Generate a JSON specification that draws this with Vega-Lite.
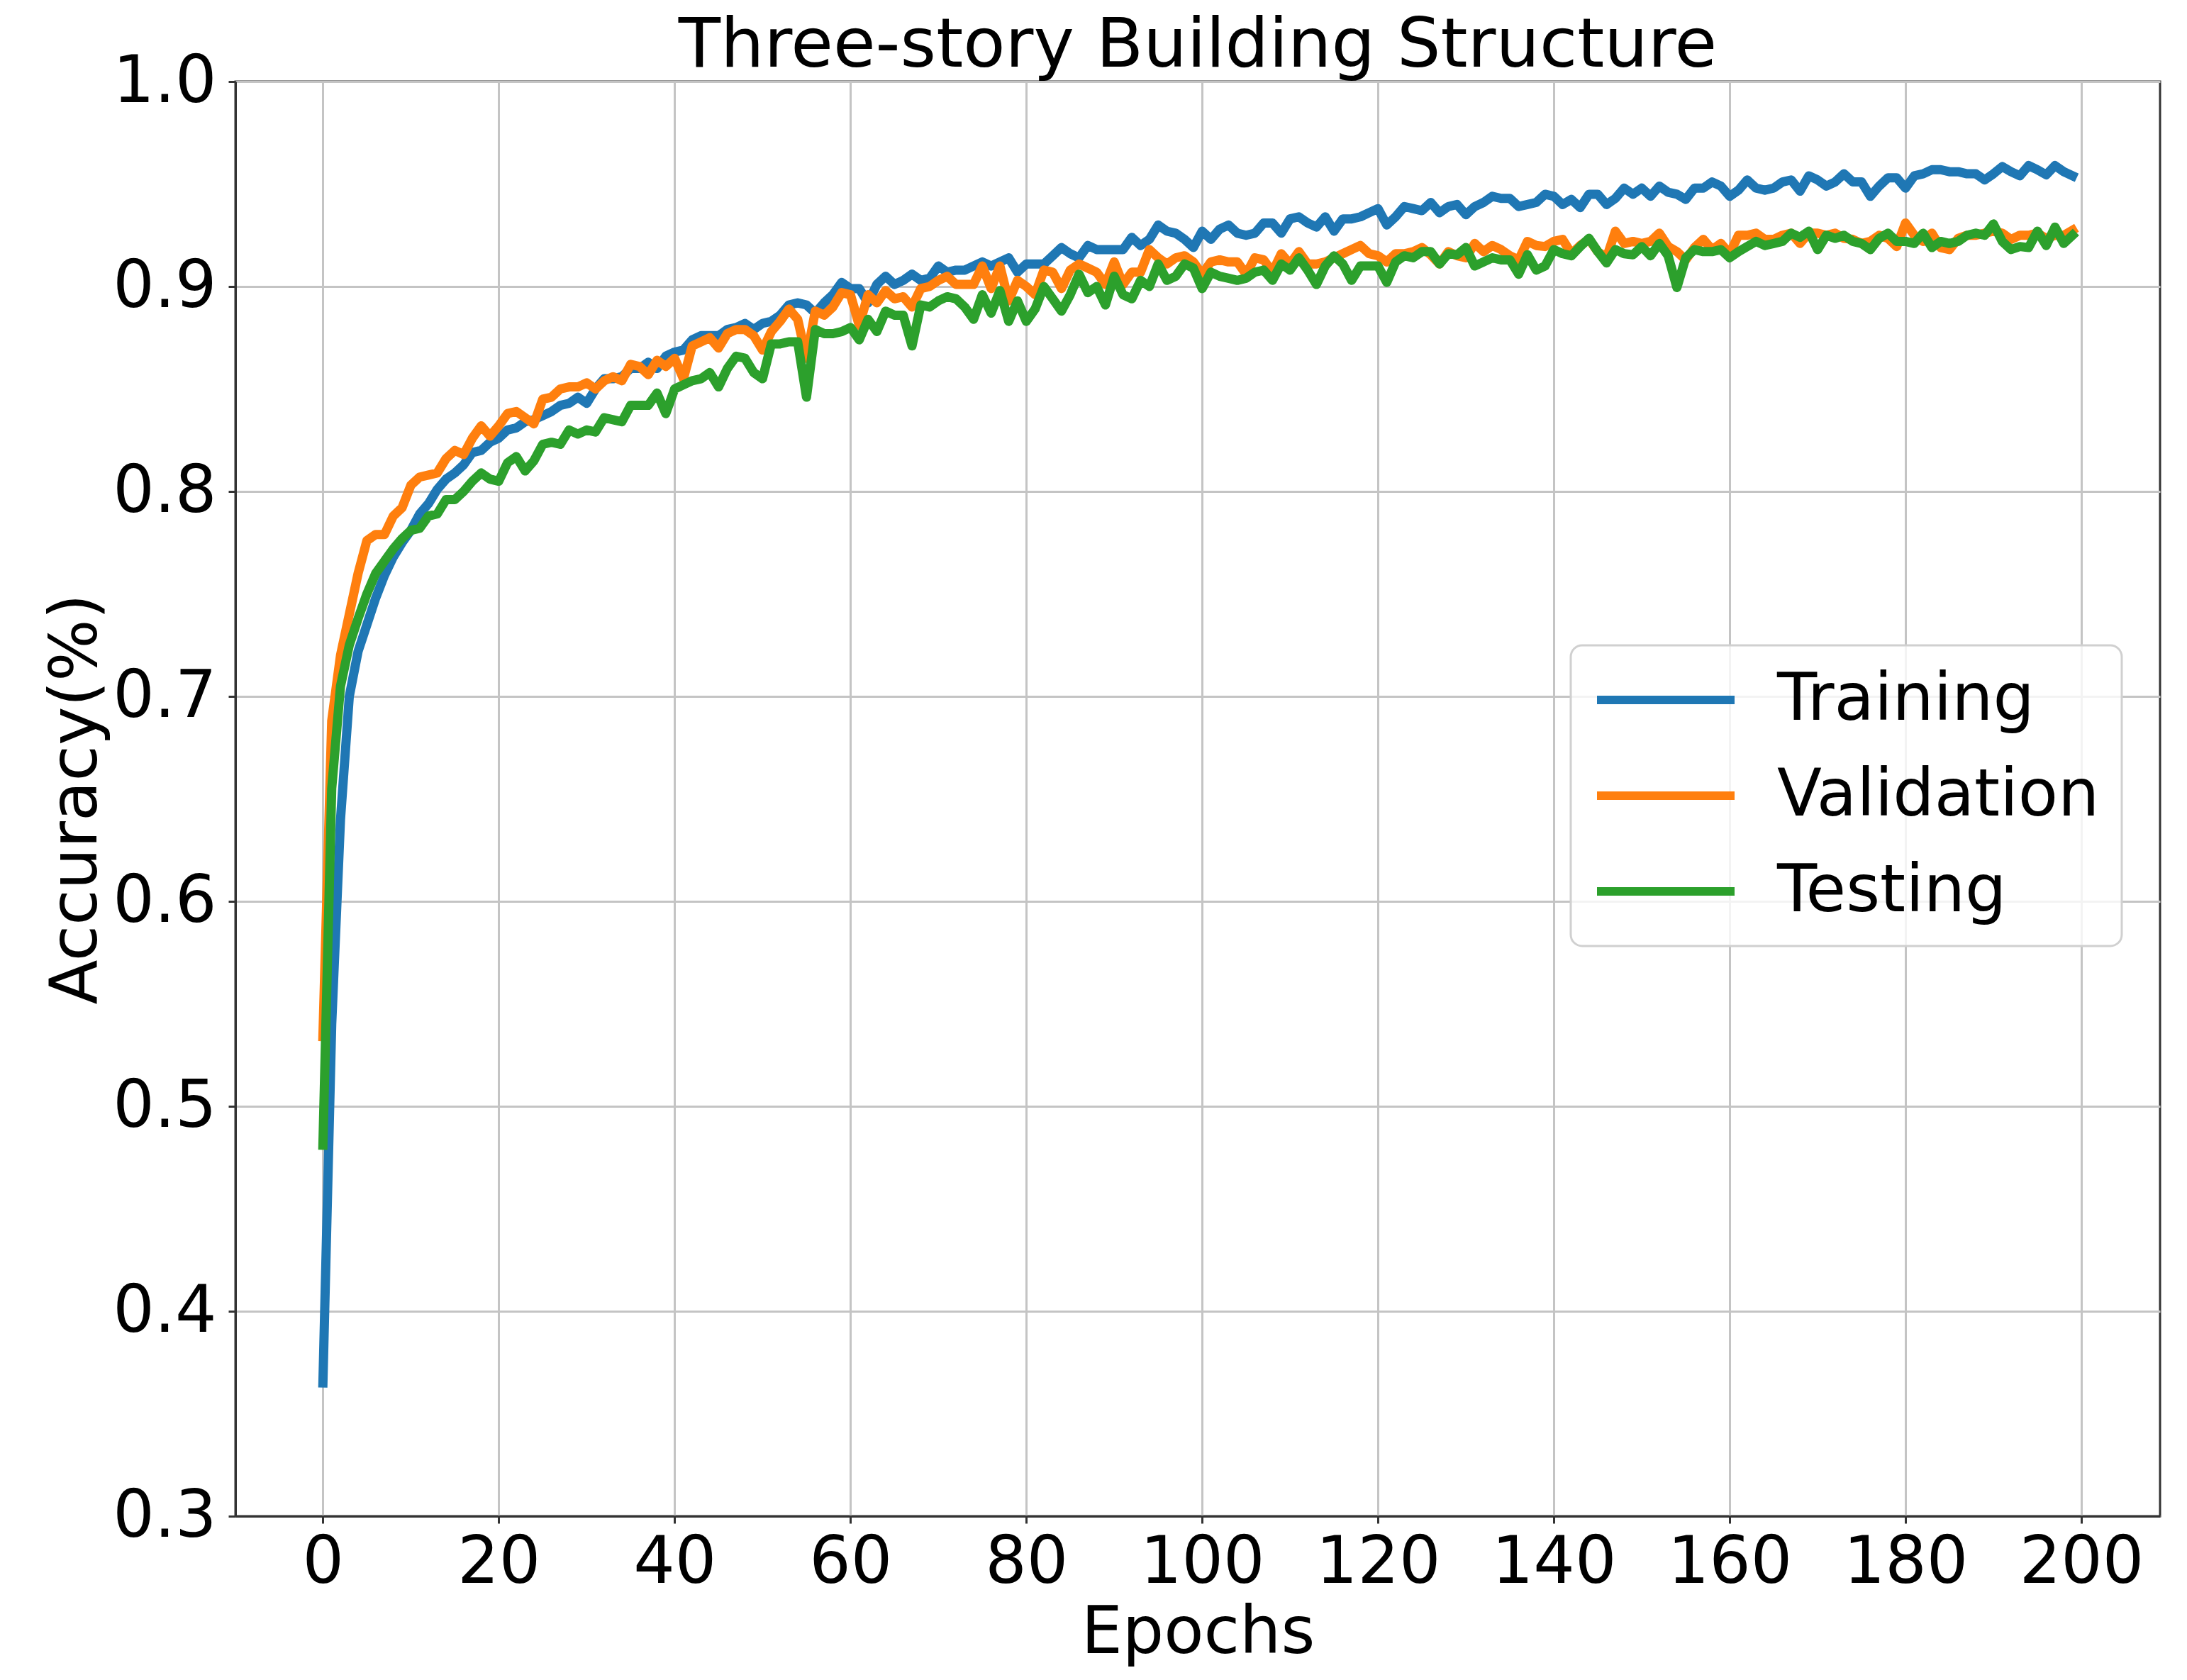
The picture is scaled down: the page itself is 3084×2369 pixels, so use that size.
{
  "$schema": "https://vega.github.io/schema/vega-lite/v6.json",
  "width": 2714,
  "height": 2023,
  "autosize": {"type": "none"},
  "padding": {"left": 332, "top": 115, "right": 38, "bottom": 231},
  "background": "white",
  "view": {"stroke": "#333333", "strokeWidth": 3},
  "title": {
    "text": "Three-story Building Structure",
    "font": "DejaVu Sans",
    "fontSize": 97,
    "fontWeight": "normal",
    "color": "black",
    "anchor": "middle",
    "baseline": "alphabetic",
    "offset": -122
  },
  "config": {
    "axis": {
      "labelFont": "DejaVu Sans",
      "labelFontSize": 92,
      "labelColor": "black",
      "titleFont": "DejaVu Sans",
      "titleFontSize": 92,
      "titleFontWeight": "normal",
      "titleColor": "black",
      "tickColor": "#333333",
      "tickWidth": 3,
      "tickSize": 10,
      "domainColor": "#333333",
      "domainWidth": 3,
      "gridColor": "#c4c4c4",
      "gridWidth": 3,
      "labelFlush": false,
      "labelOverlap": false
    },
    "legend": {"strokeWidth": 3}
  },
  "data": {
    "values": [
      {"epoch":0,"Training":0.365,"Validation":0.534,"Testing":0.481},
      {"epoch":1,"Training":0.54,"Validation":0.688,"Testing":0.655},
      {"epoch":2,"Training":0.64,"Validation":0.720,"Testing":0.705},
      {"epoch":3,"Training":0.70,"Validation":0.740,"Testing":0.725},
      {"epoch":4,"Training":0.722,"Validation":0.760,"Testing":0.738},
      {"epoch":5,"Training":0.735,"Validation":0.776,"Testing":0.750},
      {"epoch":6,"Training":0.748,"Validation":0.779,"Testing":0.760},
      {"epoch":7,"Training":0.759,"Validation":0.779,"Testing":0.766},
      {"epoch":8,"Training":0.768,"Validation":0.788,"Testing":0.772},
      {"epoch":9,"Training":0.775,"Validation":0.792,"Testing":0.777},
      {"epoch":10,"Training":0.781,"Validation":0.803,"Testing":0.781},
      {"epoch":11,"Training":0.789,"Validation":0.807,"Testing":0.782},
      {"epoch":12,"Training":0.794,"Validation":0.808,"Testing":0.788},
      {"epoch":13,"Training":0.801,"Validation":0.809,"Testing":0.789},
      {"epoch":14,"Training":0.806,"Validation":0.816,"Testing":0.796},
      {"epoch":15,"Training":0.809,"Validation":0.820,"Testing":0.796},
      {"epoch":16,"Training":0.813,"Validation":0.818,"Testing":0.800},
      {"epoch":17,"Training":0.819,"Validation":0.826,"Testing":0.805},
      {"epoch":18,"Training":0.820,"Validation":0.832,"Testing":0.809},
      {"epoch":19,"Training":0.824,"Validation":0.827,"Testing":0.806},
      {"epoch":20,"Training":0.826,"Validation":0.832,"Testing":0.805},
      {"epoch":21,"Training":0.830,"Validation":0.838,"Testing":0.814},
      {"epoch":22,"Training":0.831,"Validation":0.839,"Testing":0.817},
      {"epoch":23,"Training":0.834,"Validation":0.836,"Testing":0.810},
      {"epoch":24,"Training":0.835,"Validation":0.833,"Testing":0.815},
      {"epoch":25,"Training":0.837,"Validation":0.845,"Testing":0.823},
      {"epoch":26,"Training":0.839,"Validation":0.846,"Testing":0.824},
      {"epoch":27,"Training":0.842,"Validation":0.850,"Testing":0.823},
      {"epoch":28,"Training":0.843,"Validation":0.851,"Testing":0.830},
      {"epoch":29,"Training":0.846,"Validation":0.851,"Testing":0.828},
      {"epoch":30,"Training":0.843,"Validation":0.853,"Testing":0.830},
      {"epoch":31,"Training":0.850,"Validation":0.850,"Testing":0.829},
      {"epoch":32,"Training":0.855,"Validation":0.854,"Testing":0.836},
      {"epoch":33,"Training":0.855,"Validation":0.856,"Testing":0.835},
      {"epoch":34,"Training":0.856,"Validation":0.854,"Testing":0.834},
      {"epoch":35,"Training":0.860,"Validation":0.862,"Testing":0.842},
      {"epoch":36,"Training":0.860,"Validation":0.861,"Testing":0.842},
      {"epoch":37,"Training":0.863,"Validation":0.857,"Testing":0.842},
      {"epoch":38,"Training":0.860,"Validation":0.864,"Testing":0.848},
      {"epoch":39,"Training":0.866,"Validation":0.861,"Testing":0.838},
      {"epoch":40,"Training":0.868,"Validation":0.865,"Testing":0.850},
      {"epoch":41,"Training":0.869,"Validation":0.855,"Testing":0.852},
      {"epoch":42,"Training":0.874,"Validation":0.871,"Testing":0.854},
      {"epoch":43,"Training":0.876,"Validation":0.873,"Testing":0.855},
      {"epoch":44,"Training":0.876,"Validation":0.875,"Testing":0.858},
      {"epoch":45,"Training":0.876,"Validation":0.870,"Testing":0.851},
      {"epoch":46,"Training":0.879,"Validation":0.877,"Testing":0.860},
      {"epoch":47,"Training":0.880,"Validation":0.879,"Testing":0.866},
      {"epoch":48,"Training":0.882,"Validation":0.879,"Testing":0.865},
      {"epoch":49,"Training":0.879,"Validation":0.876,"Testing":0.858},
      {"epoch":50,"Training":0.882,"Validation":0.869,"Testing":0.855},
      {"epoch":51,"Training":0.883,"Validation":0.878,"Testing":0.872},
      {"epoch":52,"Training":0.886,"Validation":0.883,"Testing":0.872},
      {"epoch":53,"Training":0.891,"Validation":0.889,"Testing":0.873},
      {"epoch":54,"Training":0.892,"Validation":0.884,"Testing":0.873},
      {"epoch":55,"Training":0.891,"Validation":0.865,"Testing":0.846},
      {"epoch":56,"Training":0.887,"Validation":0.888,"Testing":0.879},
      {"epoch":57,"Training":0.892,"Validation":0.886,"Testing":0.877},
      {"epoch":58,"Training":0.896,"Validation":0.890,"Testing":0.877},
      {"epoch":59,"Training":0.902,"Validation":0.897,"Testing":0.878},
      {"epoch":60,"Training":0.899,"Validation":0.896,"Testing":0.880},
      {"epoch":61,"Training":0.899,"Validation":0.881,"Testing":0.874},
      {"epoch":62,"Training":0.892,"Validation":0.896,"Testing":0.884},
      {"epoch":63,"Training":0.901,"Validation":0.892,"Testing":0.878},
      {"epoch":64,"Training":0.905,"Validation":0.898,"Testing":0.888},
      {"epoch":65,"Training":0.901,"Validation":0.894,"Testing":0.886},
      {"epoch":66,"Training":0.903,"Validation":0.895,"Testing":0.886},
      {"epoch":67,"Training":0.906,"Validation":0.890,"Testing":0.871},
      {"epoch":68,"Training":0.903,"Validation":0.899,"Testing":0.891},
      {"epoch":69,"Training":0.904,"Validation":0.900,"Testing":0.890},
      {"epoch":70,"Training":0.910,"Validation":0.903,"Testing":0.893},
      {"epoch":71,"Training":0.907,"Validation":0.905,"Testing":0.895},
      {"epoch":72,"Training":0.908,"Validation":0.901,"Testing":0.894},
      {"epoch":73,"Training":0.908,"Validation":0.901,"Testing":0.890},
      {"epoch":74,"Training":0.910,"Validation":0.901,"Testing":0.884},
      {"epoch":75,"Training":0.912,"Validation":0.910,"Testing":0.896},
      {"epoch":76,"Training":0.910,"Validation":0.899,"Testing":0.887},
      {"epoch":77,"Training":0.912,"Validation":0.910,"Testing":0.898},
      {"epoch":78,"Training":0.914,"Validation":0.893,"Testing":0.883},
      {"epoch":79,"Training":0.907,"Validation":0.903,"Testing":0.893},
      {"epoch":80,"Training":0.911,"Validation":0.900,"Testing":0.883},
      {"epoch":81,"Training":0.911,"Validation":0.896,"Testing":0.889},
      {"epoch":82,"Training":0.911,"Validation":0.908,"Testing":0.900},
      {"epoch":83,"Training":0.915,"Validation":0.907,"Testing":0.894},
      {"epoch":84,"Training":0.919,"Validation":0.899,"Testing":0.888},
      {"epoch":85,"Training":0.916,"Validation":0.908,"Testing":0.896},
      {"epoch":86,"Training":0.914,"Validation":0.911,"Testing":0.906},
      {"epoch":87,"Training":0.920,"Validation":0.909,"Testing":0.897},
      {"epoch":88,"Training":0.918,"Validation":0.907,"Testing":0.900},
      {"epoch":89,"Training":0.918,"Validation":0.901,"Testing":0.891},
      {"epoch":90,"Training":0.918,"Validation":0.912,"Testing":0.905},
      {"epoch":91,"Training":0.918,"Validation":0.901,"Testing":0.896},
      {"epoch":92,"Training":0.924,"Validation":0.907,"Testing":0.894},
      {"epoch":93,"Training":0.920,"Validation":0.907,"Testing":0.903},
      {"epoch":94,"Training":0.923,"Validation":0.918,"Testing":0.900},
      {"epoch":95,"Training":0.930,"Validation":0.914,"Testing":0.911},
      {"epoch":96,"Training":0.927,"Validation":0.911,"Testing":0.903},
      {"epoch":97,"Training":0.926,"Validation":0.914,"Testing":0.905},
      {"epoch":98,"Training":0.923,"Validation":0.915,"Testing":0.911},
      {"epoch":99,"Training":0.919,"Validation":0.912,"Testing":0.909},
      {"epoch":100,"Training":0.927,"Validation":0.906,"Testing":0.899},
      {"epoch":101,"Training":0.923,"Validation":0.912,"Testing":0.907},
      {"epoch":102,"Training":0.928,"Validation":0.913,"Testing":0.905},
      {"epoch":103,"Training":0.930,"Validation":0.912,"Testing":0.904},
      {"epoch":104,"Training":0.926,"Validation":0.912,"Testing":0.903},
      {"epoch":105,"Training":0.925,"Validation":0.906,"Testing":0.904},
      {"epoch":106,"Training":0.926,"Validation":0.914,"Testing":0.907},
      {"epoch":107,"Training":0.931,"Validation":0.913,"Testing":0.908},
      {"epoch":108,"Training":0.931,"Validation":0.907,"Testing":0.903},
      {"epoch":109,"Training":0.926,"Validation":0.916,"Testing":0.911},
      {"epoch":110,"Training":0.933,"Validation":0.911,"Testing":0.908},
      {"epoch":111,"Training":0.934,"Validation":0.917,"Testing":0.914},
      {"epoch":112,"Training":0.931,"Validation":0.911,"Testing":0.908},
      {"epoch":113,"Training":0.929,"Validation":0.911,"Testing":0.901},
      {"epoch":114,"Training":0.934,"Validation":0.912,"Testing":0.910},
      {"epoch":115,"Training":0.927,"Validation":0.914,"Testing":0.915},
      {"epoch":116,"Training":0.933,"Validation":0.916,"Testing":0.911},
      {"epoch":117,"Training":0.933,"Validation":0.918,"Testing":0.903},
      {"epoch":118,"Training":0.934,"Validation":0.920,"Testing":0.910},
      {"epoch":119,"Training":0.936,"Validation":0.916,"Testing":0.910},
      {"epoch":120,"Training":0.938,"Validation":0.915,"Testing":0.910},
      {"epoch":121,"Training":0.930,"Validation":0.912,"Testing":0.902},
      {"epoch":122,"Training":0.934,"Validation":0.916,"Testing":0.912},
      {"epoch":123,"Training":0.939,"Validation":0.916,"Testing":0.915},
      {"epoch":124,"Training":0.938,"Validation":0.917,"Testing":0.914},
      {"epoch":125,"Training":0.937,"Validation":0.919,"Testing":0.917},
      {"epoch":126,"Training":0.941,"Validation":0.9155,"Testing":0.917},
      {"epoch":127,"Training":0.936,"Validation":0.911,"Testing":0.911},
      {"epoch":128,"Training":0.939,"Validation":0.917,"Testing":0.916},
      {"epoch":129,"Training":0.940,"Validation":0.915,"Testing":0.9155},
      {"epoch":130,"Training":0.935,"Validation":0.914,"Testing":0.919},
      {"epoch":131,"Training":0.939,"Validation":0.921,"Testing":0.910},
      {"epoch":132,"Training":0.941,"Validation":0.917,"Testing":0.912},
      {"epoch":133,"Training":0.944,"Validation":0.920,"Testing":0.914},
      {"epoch":134,"Training":0.943,"Validation":0.918,"Testing":0.913},
      {"epoch":135,"Training":0.943,"Validation":0.915,"Testing":0.913},
      {"epoch":136,"Training":0.939,"Validation":0.913,"Testing":0.906},
      {"epoch":137,"Training":0.940,"Validation":0.922,"Testing":0.9155},
      {"epoch":138,"Training":0.941,"Validation":0.920,"Testing":0.908},
      {"epoch":139,"Training":0.945,"Validation":0.9195,"Testing":0.910},
      {"epoch":140,"Training":0.944,"Validation":0.922,"Testing":0.918},
      {"epoch":141,"Training":0.940,"Validation":0.923,"Testing":0.916},
      {"epoch":142,"Training":0.9425,"Validation":0.916,"Testing":0.915},
      {"epoch":143,"Training":0.9385,"Validation":0.920,"Testing":0.9195},
      {"epoch":144,"Training":0.945,"Validation":0.923,"Testing":0.9235},
      {"epoch":145,"Training":0.945,"Validation":0.917,"Testing":0.917},
      {"epoch":146,"Training":0.940,"Validation":0.914,"Testing":0.9115},
      {"epoch":147,"Training":0.943,"Validation":0.927,"Testing":0.918},
      {"epoch":148,"Training":0.948,"Validation":0.921,"Testing":0.916},
      {"epoch":149,"Training":0.945,"Validation":0.922,"Testing":0.9155},
      {"epoch":150,"Training":0.948,"Validation":0.921,"Testing":0.9195},
      {"epoch":151,"Training":0.944,"Validation":0.922,"Testing":0.915},
      {"epoch":152,"Training":0.949,"Validation":0.926,"Testing":0.921},
      {"epoch":153,"Training":0.946,"Validation":0.9195,"Testing":0.915},
      {"epoch":154,"Training":0.945,"Validation":0.917,"Testing":0.8995},
      {"epoch":155,"Training":0.9425,"Validation":0.913,"Testing":0.914},
      {"epoch":156,"Training":0.948,"Validation":0.919,"Testing":0.918},
      {"epoch":157,"Training":0.948,"Validation":0.923,"Testing":0.917},
      {"epoch":158,"Training":0.951,"Validation":0.918,"Testing":0.917},
      {"epoch":159,"Training":0.949,"Validation":0.921,"Testing":0.918},
      {"epoch":160,"Training":0.944,"Validation":0.916,"Testing":0.914},
      {"epoch":161,"Training":0.947,"Validation":0.925,"Testing":0.917},
      {"epoch":162,"Training":0.952,"Validation":0.925,"Testing":0.9195},
      {"epoch":163,"Training":0.948,"Validation":0.926,"Testing":0.922},
      {"epoch":164,"Training":0.947,"Validation":0.923,"Testing":0.920},
      {"epoch":165,"Training":0.948,"Validation":0.923,"Testing":0.921},
      {"epoch":166,"Training":0.951,"Validation":0.925,"Testing":0.922},
      {"epoch":167,"Training":0.952,"Validation":0.926,"Testing":0.926},
      {"epoch":168,"Training":0.9465,"Validation":0.921,"Testing":0.924},
      {"epoch":169,"Training":0.954,"Validation":0.926,"Testing":0.927},
      {"epoch":170,"Training":0.952,"Validation":0.926,"Testing":0.918},
      {"epoch":171,"Training":0.949,"Validation":0.925,"Testing":0.925},
      {"epoch":172,"Training":0.951,"Validation":0.926,"Testing":0.9235},
      {"epoch":173,"Training":0.955,"Validation":0.9235,"Testing":0.925},
      {"epoch":174,"Training":0.951,"Validation":0.923,"Testing":0.922},
      {"epoch":175,"Training":0.951,"Validation":0.921,"Testing":0.921},
      {"epoch":176,"Training":0.944,"Validation":0.922,"Testing":0.918},
      {"epoch":177,"Training":0.949,"Validation":0.925,"Testing":0.9235},
      {"epoch":178,"Training":0.953,"Validation":0.9235,"Testing":0.926},
      {"epoch":179,"Training":0.953,"Validation":0.9195,"Testing":0.922},
      {"epoch":180,"Training":0.948,"Validation":0.931,"Testing":0.922},
      {"epoch":181,"Training":0.954,"Validation":0.925,"Testing":0.921},
      {"epoch":182,"Training":0.955,"Validation":0.922,"Testing":0.926},
      {"epoch":183,"Training":0.957,"Validation":0.926,"Testing":0.919},
      {"epoch":184,"Training":0.957,"Validation":0.919,"Testing":0.922},
      {"epoch":185,"Training":0.956,"Validation":0.918,"Testing":0.921},
      {"epoch":186,"Training":0.956,"Validation":0.9235,"Testing":0.922},
      {"epoch":187,"Training":0.955,"Validation":0.925,"Testing":0.925},
      {"epoch":188,"Training":0.955,"Validation":0.925,"Testing":0.926},
      {"epoch":189,"Training":0.952,"Validation":0.926,"Testing":0.925},
      {"epoch":190,"Training":0.955,"Validation":0.927,"Testing":0.9305},
      {"epoch":191,"Training":0.9585,"Validation":0.926,"Testing":0.922},
      {"epoch":192,"Training":0.956,"Validation":0.923,"Testing":0.918},
      {"epoch":193,"Training":0.954,"Validation":0.925,"Testing":0.9195},
      {"epoch":194,"Training":0.959,"Validation":0.925,"Testing":0.919},
      {"epoch":195,"Training":0.957,"Validation":0.926,"Testing":0.927},
      {"epoch":196,"Training":0.9545,"Validation":0.9235,"Testing":0.920},
      {"epoch":197,"Training":0.959,"Validation":0.925,"Testing":0.929},
      {"epoch":198,"Training":0.956,"Validation":0.925,"Testing":0.921},
      {"epoch":199,"Training":0.954,"Validation":0.9275,"Testing":0.925}
    ]
  },
  "transform": [
    {"fold": ["Training", "Validation", "Testing"], "as": ["set", "accuracy"]}
  ],
  "mark": {
    "type": "line",
    "strokeWidth": 13,
    "strokeJoin": "round",
    "strokeCap": "square"
  },
  "encoding": {
    "x": {
      "field": "epoch",
      "type": "quantitative",
      "scale": {"domain": [-9.95, 208.95], "nice": false, "zero": false},
      "axis": {
        "title": "Epochs",
        "values": [0, 20, 40, 60, 80, 100, 120, 140, 160, 180, 200],
        "format": "d",
        "labelBaseline": "alphabetic",
        "labelPadding": 83,
        "titleBaseline": "alphabetic",
        "titleX": 1357,
        "titleY": 192
      }
    },
    "y": {
      "field": "accuracy",
      "type": "quantitative",
      "scale": {"domain": [0.3, 1.0], "nice": false, "zero": false},
      "axis": {
        "title": "Accuracy(%)",
        "values": [0.3, 0.4, 0.5, 0.6, 0.7, 0.8, 0.9, 1.0],
        "format": ".1f",
        "labelPadding": 17,
        "labelBaseline": "middle",
        "titleAngle": -90,
        "titleBaseline": "alphabetic",
        "titleAlign": "center",
        "titleX": -197,
        "titleY": 1011.5
      }
    },
    "color": {
      "field": "set",
      "type": "nominal",
      "scale": {
        "domain": ["Training", "Validation", "Testing"],
        "range": ["#1f77b4", "#ff7f0e", "#2ca02c"]
      },
      "legend": {
        "title": null,
        "orient": "none",
        "legendX": 1883,
        "legendY": 795,
        "symbolType": "stroke",
        "symbolSize": 37636,
        "symbolStrokeWidth": 12,
        "clipHeight": 92,
        "labelFont": "DejaVu Sans",
        "labelFontSize": 92,
        "labelColor": "black",
        "labelLimit": 1000,
        "labelOffset": 54,
        "rowPadding": 43,
        "padding": 31,
        "strokeColor": "#d0d0d0",
        "fillColor": "rgba(255,255,255,0.8)",
        "cornerRadius": 16
      }
    }
  }
}
